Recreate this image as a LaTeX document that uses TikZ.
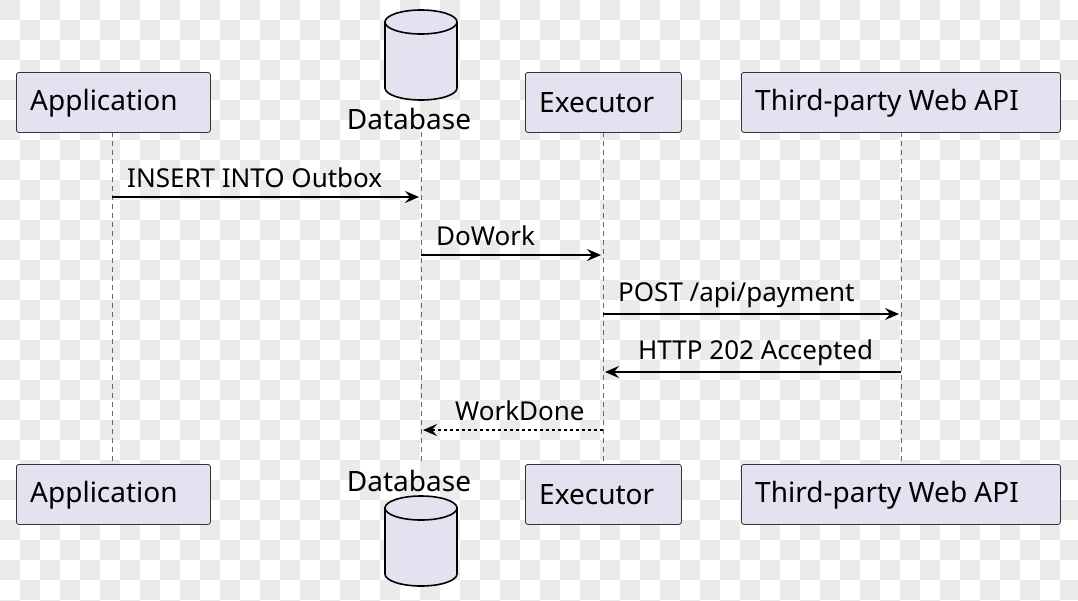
\documentclass[tikz,border=0pt]{standalone}
\usepackage{fontspec}
\setmainfont{Noto Sans}
\usetikzlibrary{arrows.meta}
\definecolor{pfill}{HTML}{E2E2F0}
\definecolor{chk}{HTML}{EBEBEB}
\begin{document}
\begin{tikzpicture}[x=1pt,y=-1pt,
  part/.style={draw=black!80,fill=pfill,rounded corners=2.5pt,line width=0.8pt,minimum height=60pt,anchor=north west,inner sep=0pt},
  ptxt/.style={font=\fontsize{28}{30}\selectfont,anchor=west,inner sep=0pt},
  life/.style={draw=black!60,dash pattern=on 5pt off 4pt,line width=0.8pt},
  msg/.style={draw=black,line width=1.2pt,-{Stealth[length=14pt,width=12pt,inset=5pt]}},
  lbl/.style={font=\fontsize{26}{29}\selectfont,inner sep=0pt}]
\useasboundingbox (0,0) rectangle (1078,600);
\fill[white] (0,0) rectangle (1078,600);
\foreach \x in {0,40,...,1080}{\foreach \y in {0,40,...,600}{
  \fill[chk] (\x,\y) rectangle ++(20,20);
  \fill[chk] (\x+20,\y+20) rectangle ++(20,20);}}
% lifelines
\coordinate (la1) at (112,132); \coordinate (la2) at (112,464);
\coordinate (ld1) at (421,132); \coordinate (ld2) at (421,464);
\coordinate (le1) at (603,132); \coordinate (le2) at (603,464);
\coordinate (lw1) at (901,132); \coordinate (lw2) at (901,464);
\draw[life] (la1)--(la2); \draw[life] (ld1)--(ld2); \draw[life] (le1)--(le2); \draw[life] (lw1)--(lw2);
% participants
\node[part,minimum width=194pt] (app) at (16,72) {};
\node[ptxt] (appt) at (30,103) {Application};
\node[part,minimum width=156pt] (ex) at (525,72) {};
\node[ptxt] (ext) at (539,103) {Executor};
\node[part,minimum width=319pt] (api) at (741,72) {};
\node[ptxt] (apit) at (755,103) {Third-party Web API};
\node[part,minimum width=194pt] (app2) at (16,464) {};
\node[ptxt] (appt2) at (30,495) {Application};
\node[part,minimum width=156pt] (ex2) at (525,464) {};
\node[ptxt] (ext2) at (539,495) {Executor};
\node[part,minimum width=319pt] (api2) at (741,464) {};
\node[ptxt] (apit2) at (755,495) {Third-party Web API};
% database cylinders
\foreach \t in {10,496}{
  \draw[line width=1.6pt,fill=pfill] (385,\t+12) -- (385,\t+78) arc[start angle=180,end angle=0,x radius=36,y radius=12] -- (457,\t+12) -- cycle;
  \draw[line width=1.6pt,fill=pfill] (421,\t+12) ellipse[x radius=36,y radius=12];
}
\node[ptxt,anchor=center] (db) at (409,119) {Database};
\node[ptxt,anchor=center] (db2) at (409,481) {Database};
% messages
\coordinate (m1a) at (112,197); \coordinate (m1b) at (419,197);
\coordinate (m2a) at (421,255); \coordinate (m2b) at (601,255);
\coordinate (m3a) at (603,314); \coordinate (m3b) at (899,314);
\coordinate (m4a) at (901,372); \coordinate (m4b) at (605,372);
\coordinate (m5a) at (603,430); \coordinate (m5b) at (423,430);
\draw[msg] (m1a)--(m1b); \draw[msg] (m2a)--(m2b); \draw[msg] (m3a)--(m3b); \draw[msg] (m4a)--(m4b);
\draw[msg,dash pattern=on 3pt off 3pt] (m5a)--(m5b);
\node[lbl,anchor=west] (l1) at (127,178) {INSERT INTO Outbox};
\node[lbl,anchor=west] (l2) at (436,236) {DoWork};
\node[lbl,anchor=west] (l3) at (618,295) {POST /api/payment};
\node[lbl,anchor=west] (l4) at (638,353) {HTTP 202 Accepted};
\node[lbl,anchor=west] (l5) at (455,411) {WorkDone};
\end{tikzpicture}
\end{document}
